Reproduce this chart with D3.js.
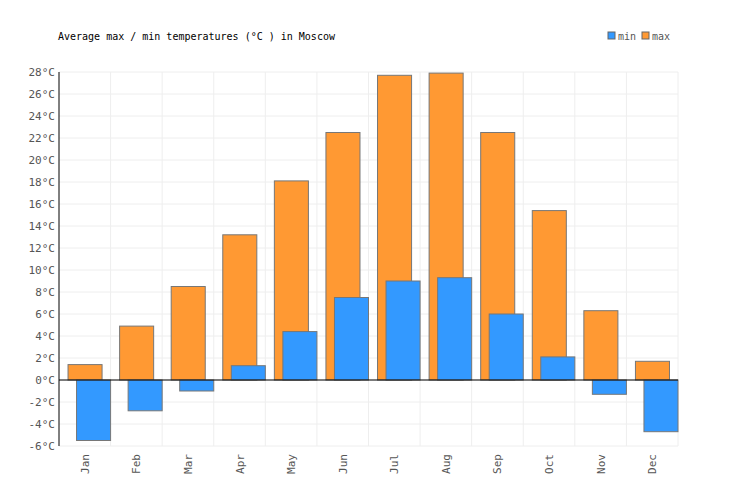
<!DOCTYPE html>
<html>
<head>
<meta charset="utf-8">
<script src="https://cdn.jsdelivr.net/npm/d3@7"></script>
<style>
  body { margin: 0; background: #fff; }
  text { font-family: "DejaVu Sans Mono", monospace; }
</style>
</head>
<body>
<div id="chart"></div>
<script>
// data
const months = ["Jan", "Feb", "Mar", "Apr", "May", "Jun", "Jul", "Aug", "Sep", "Oct", "Nov", "Dec"];
const minTemps = [-5.5, -2.8, -1.0, 1.3, 4.4, 7.5, 9.0, 9.3, 6.0, 2.1, -1.3, -4.7];
const maxTemps = [1.4, 4.9, 8.5, 13.2, 18.1, 22.5, 27.7, 27.9, 22.5, 15.4, 6.3, 1.7];
const yTicks = [-6, -4, -2, 0, 2, 4, 6, 8, 10, 12, 14, 16, 18, 20, 22, 24, 26, 28];

// constants
const w = 736;
const h = 500;
const padLeft = 59, padRight = 678, padTop = 72, padBottom = 446;
const minColor = "#3399ff";
const maxColor = "#ff9933";

const svg = d3.select("#chart").append("svg")
  .attr("width", w)
  .attr("height", h);

// scales
const xScale = d3.scaleBand().domain(months).range([padLeft, padRight]);
const yScale = d3.scaleLinear().domain([-6, 28]).range([padBottom, padTop]);
const bw = xScale.bandwidth();

// grid
svg.append("g")
  .selectAll("line")
  .data(yTicks)
  .enter()
  .append("line")
  .attr("x1", padLeft).attr("x2", padRight)
  .attr("y1", (d) => yScale(d)).attr("y2", (d) => yScale(d))
  .attr("stroke", "#eeeeee");
svg.append("g")
  .selectAll("line")
  .data(months)
  .enter()
  .append("line")
  .attr("x1", (d) => xScale(d) + bw).attr("x2", (d) => xScale(d) + bw)
  .attr("y1", padTop).attr("y2", padBottom)
  .attr("stroke", "#eeeeee");

// bars: max behind, min in front
svg.append("g")
  .selectAll("rect")
  .data(maxTemps)
  .enter()
  .append("rect")
  .attr("x", (d, i) => xScale(months[i]) + bw * 0.175)
  .attr("y", (d) => yScale(Math.max(d, 0)))
  .attr("width", bw * 0.66)
  .attr("height", (d) => Math.abs(yScale(d) - yScale(0)))
  .attr("fill", maxColor)
  .attr("stroke", "#777")
  .attr("stroke-width", 1);
svg.append("g")
  .selectAll("rect")
  .data(minTemps)
  .enter()
  .append("rect")
  .attr("x", (d, i) => xScale(months[i]) + bw * 0.34)
  .attr("y", (d) => yScale(Math.max(d, 0)))
  .attr("width", bw * 0.66)
  .attr("height", (d) => Math.abs(yScale(d) - yScale(0)))
  .attr("fill", minColor)
  .attr("stroke", "#777")
  .attr("stroke-width", 1);

// zero line and y axis line
svg.append("line")
  .attr("x1", padLeft).attr("x2", padRight)
  .attr("y1", yScale(0)).attr("y2", yScale(0))
  .attr("stroke", "#000");
svg.append("line")
  .attr("x1", padLeft).attr("x2", padLeft)
  .attr("y1", padTop).attr("y2", padBottom)
  .attr("stroke", "#000");

// y labels
svg.append("g")
  .selectAll("text")
  .data(yTicks)
  .enter()
  .append("text")
  .attr("x", padLeft - 4)
  .attr("y", (d) => yScale(d) + 4)
  .attr("text-anchor", "end")
  .attr("font-size", 11)
  .attr("fill", "#555")
  .text((d) => d + "°C");

// x labels
svg.append("g")
  .selectAll("text")
  .data(months)
  .enter()
  .append("text")
  .attr("transform", (d) => `translate(${xScale(d) + bw / 2 + 4},${padBottom + 8}) rotate(-90)`)
  .attr("text-anchor", "end")
  .attr("font-size", 11)
  .attr("fill", "#555")
  .text((d) => d);

// title
svg.append("text")
  .attr("x", 58).attr("y", 40)
  .attr("font-size", 10)
  .attr("fill", "#000")
  .text("Average max / min temperatures (°C ) in Moscow");

// legend
const legend = [["min", minColor, 608], ["max", maxColor, 642]];
legend.forEach(([name, color, x]) => {
  svg.append("rect")
    .attr("x", x).attr("y", 32)
    .attr("width", 7).attr("height", 7)
    .attr("fill", color)
    .attr("stroke", "#666")
    .attr("stroke-width", 1);
  svg.append("text")
    .attr("x", x + 10).attr("y", 40)
    .attr("font-size", 10)
    .attr("fill", "#555")
    .text(name);
});
</script>
</body>
</html>
